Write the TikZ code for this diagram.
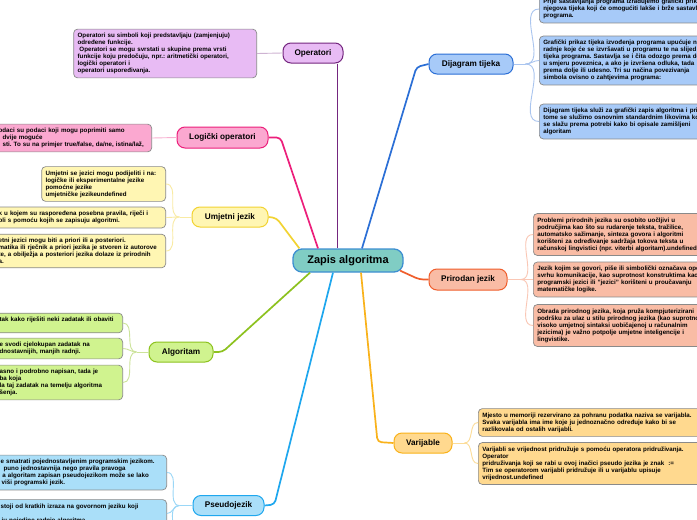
\documentclass[tikz,border=0pt]{standalone}
\usepackage{fontspec}
\setmainfont{Liberation Sans}
\usetikzlibrary{positioning, calc}

\definecolor{rootfill}{HTML}{80CDC4}
\definecolor{rootline}{HTML}{3D8FD1}
\definecolor{oplight}{HTML}{E8BBF4}
\definecolor{opdark}{HTML}{74267F}
\definecolor{lolight}{HTML}{FBA8D0}
\definecolor{lodark}{HTML}{EC1F7B}
\definecolor{ujlight}{HTML}{FFF6B3}
\definecolor{ujdark}{HTML}{F2D332}
\definecolor{allight}{HTML}{D0F38F}
\definecolor{aldark}{HTML}{8DC21F}
\definecolor{pslight}{HTML}{AADFF9}
\definecolor{psdark}{HTML}{1EA7EE}
\definecolor{dtlight}{HTML}{A7CAF8}
\definecolor{dtdark}{HTML}{2B6FD6}
\definecolor{pjlight}{HTML}{F9BCA5}
\definecolor{pjdark}{HTML}{F05E2C}
\definecolor{varlight}{HTML}{FFD98F}
\definecolor{vardark}{HTML}{F9B21A}
\definecolor{noteline}{HTML}{8A8A8A}

\newcommand{\notefont}{\fontsize{6.2}{7}\selectfont\bfseries\frenchspacing
    \hyphenpenalty=10000\relax\exhyphenpenalty=10000\relax}

\begin{document}
\begin{tikzpicture}[x=1pt, y=-1pt,
        root/.style={rectangle, draw=rootline, line width=1.3pt, fill=rootfill, rounded corners=9pt, minimum width=110pt, minimum height=23pt, font=\fontsize{11}{13}\selectfont\bfseries},
        topic/.style={rectangle, draw, line width=1pt, rounded corners=8pt, minimum height=20pt, inner sep=2pt, font=\fontsize{8.2}{10}\selectfont\bfseries},
        note/.style={rectangle, draw=noteline, line width=0.7pt, rounded corners=4pt, inner xsep=4pt, inner ysep=4pt, align=left, font=\notefont},
        branch/.style={line width=1.7pt, rounded corners=4pt},
        twig/.style={line width=0.9pt}
    ]
        \useasboundingbox (0,0) rectangle (697,520);
        \clip (0,0) rectangle (697,520);
        \fill[white] (0,0) rectangle (697,520);

        % Central topic
        \node[root] (root) at (348,260.5) {Zapis algoritma};

        % Main topics
        \node[topic, fill=oplight, draw=opdark, minimum width=60pt] (opr) at (313,53) {Operatori};
        \node[topic, fill=lolight, draw=lodark, minimum width=91pt, minimum height=21pt] (lo) at (222.5,137.5) {Logički operatori};
        \node[topic, fill=ujlight, draw=ujdark, minimum width=76pt] (uj) at (230,217) {Umjetni jezik};
        \node[topic, fill=allight, draw=aldark, minimum width=64pt] (alg) at (181,352) {Algoritam};
        \node[topic, fill=pslight, draw=psdark, minimum width=71pt] (ps) at (228.5,505.5) {Pseudojezik};
        \node[topic, fill=dtlight, draw=dtdark, minimum width=84pt] (dt) at (471,64) {Dijagram tijeka};
        \node[topic, fill=pjlight, draw=pjdark, minimum width=78pt, minimum height=21pt] (pj) at (468,279.5) {Prirodan jezik};
        \node[topic, fill=varlight, draw=vardark, minimum width=58pt] (var) at (423,443) {Varijable};

        % Notes, left side
        \node[note, fill=oplight, anchor=east, text width=175pt] (opl) at (257,53.5) {Operatori su simboli koji predstavljaju (zamjenjuju)\\ određene funkcije.\\ \hspace*{1.8pt}Operatori se mogu svrstati u skupine prema vrsti\\ funkcije koju predočuju, npr.: aritmetički operatori,\\ logički operatori i\\ operatori uspoređivanja.};
        \node[note, fill=lolight, anchor=east, text width=149pt] (lol) at (152,138) {odaci su podaci koji mogu poprimiti samo\\ \hspace*{4pt}dvije moguće\\ \hspace*{4pt}sti. To su na primjer true/false, da/ne, istina/laž,};

        \node[note, fill=ujlight, anchor=east, text width=116pt] (ujl1) at (166,184) {Umjetni se jezici mogu podijeliti i na:\\ logičke ili eksperimentalne jezike\\ pomoćne jezike\\ umjetničke jezikeundefined};
        \node[note, fill=ujlight, anchor=east, text width=163pt] (ujl2) at (166,217.5) {k u kojem su raspoređena posebna pravila, riječi i\\ oli s pomoću kojih se zapisuju algoritmi.};
        \node[note, fill=ujlight, anchor=east, text width=163pt] (ujl3) at (166,251) {etni jezici mogu biti a priori ili a posteriori.\\ matika ili rječnik a priori jezika je stvoren iz autorove\\ te, a obilježja a posteriori jezika dolaze iz prirodnih\\ a.};

        \node[note, fill=allight, anchor=east, text width=119pt] (all1) at (123,323) {tak kako riješiti neki zadatak ili obaviti\\ \mbox{}};
        \node[note, fill=allight, anchor=east, text width=119pt] (all2) at (123,348.5) {e svodi cjelokupan zadatak na\\ dnostavnijih, manjih radnji.};
        \node[note, fill=allight, anchor=east, text width=119pt] (all3) at (123,382.5) {asno i podrobno napisan, tada je\\ ba koja\\ la taj zadatak na temelju algoritma\\ šenja.};

        \node[note, fill=pslight, anchor=east, text width=164pt] (psl1) at (167,472.5) {\hspace*{2pt}e smatrati pojednostavljenim programskim jezikom.\\ \hspace*{5pt}puno jednostavnija nego pravila pravoga\\ , a algoritam zapisan pseudojezikom može se lako\\ \hspace*{3pt}viši programski jezik.};
        \node[note, fill=pslight, anchor=east, text width=164pt] (psl2) at (167,513.5) {\hspace*{2pt}stoji od kratkih izraza na govornom jeziku koji\\ \mbox{}\\ \hspace*{3pt}ju pojedine radnje algoritma.};
        \coordinate (psnext) at (167,548);

        % Notes, right side
        \node[note, fill=dtlight, anchor=west, text width=260pt] (dtl1) at (539,9) {Prije sastavljanja programa izrađujemo grafički prikaz\\ njegova tijeka koji će omogućiti lakše i brže sastavljanje\\ programa.};
        \node[note, fill=dtlight, anchor=west, text width=260pt] (dtl2) at (539,60.5) {Grafički prikaz tijeka izvođenja programa upućuje na\\ radnje koje će se izvršavati u programu te na slijed\\ tijeka programa. Sastavlja se i čita odozgo prema dolje\\ u smjeru poveznica, a ako je izvršena odluka, tada\\ prema dolje ili udesno. Tri su načina povezivanja\\ simbola ovisno o zahtjevima programa:};
        \node[note, fill=dtlight, anchor=west, text width=260pt] (dtl3) at (539,121.5) {Dijagram tijeka služi za grafički zapis algoritma i pri\\ tome se služimo osnovnim standardnim likovima koji\\ se slažu prema potrebi kako bi opisale zamišljeni\\ algoritam};

        \node[note, fill=pjlight, anchor=west, text width=260pt] (pjl1) at (533,234.5) {Problemi prirodnih jezika su osobito uočljivi u\\ područjima kao što su rudarenje teksta, tražilice,\\ automatsko sažimanje, sinteza govora i algoritmi\\ korišteni za određivanje sadržaja tokova teksta u\\ računskoj lingvistici (npr. viterbi algoritam).undefined};
        \node[note, fill=pjlight, anchor=west, text width=260pt] (pjl2) at (533,279.5) {Jezik kojim se govori, piše ili simbolički označava opću\\ svrhu komunikacije, kao suprotnost konstruktima kao što su\\ programski jezici ili "jezici" korišteni u proučavanju\\ matematičke logike.};
        \node[note, fill=pjlight, anchor=west, text width=260pt] (pjl3) at (533,325.5) {Obrada prirodnog jezika, koja pruža kompjuterizirani\\ podršku za ulaz u stilu prirodnog jezika (kao suprotnost\\ visoko umjetnoj sintaksi uobičajenoj u računalnim\\ jezicima) je važno potpolje umjetne inteligencije i\\ lingvistike.};

        \node[note, fill=varlight, anchor=west, text width=260pt] (varl1) at (478,422.5) {Mjesto u memoriji rezervirano za pohranu podatka naziva se varijabla.\\ Svaka varijabla ima ime koje ju jednoznačno određuje kako bi se\\ razlikovala od ostalih varijabli.};
        \node[note, fill=varlight, anchor=west, text width=260pt] (varl2) at (478,463.5) {Varijabli se vrijednost pridružuje s pomoću operatora pridruživanja.\\ Operator\\ pridruživanja koji se rabi u ovoj inačici pseudo jezika je znak~~:=\\ Tim se operatorom varijabli pridružuje ili u varijablu upisuje\\ vrijednost.undefined};

        % Branches to the central topic
        \coordinate (opdrop) at ($(opr.south east)+(-6,0)$);
        \draw[branch, opdark] (opdrop) -- (opdrop |- root.north);
        \draw[branch, lodark] (lo.east) -- ++(12,0) -- ($(root.north)+(-30,0)$);
        \draw[branch, ujdark] (uj.east) -- ++(8,1) -- ($(root.north west)+(7,0)$);
        \draw[branch, aldark] (alg.east) -- ++(9,0) -- ($(root.south)+(-38,0)$);
        \draw[branch, psdark] (ps.east) -- ++(10,-1) -- ($(root.south)+(-15,0)$);
        \draw[branch, vardark] (var.west) -- ++(-16,-1) -- ($(root.south)+(13,0)$);
        \draw[branch, pjdark] (pj.west) -- ++(-9,0) -- ($(root.south east)+(-3.5,-2)$);
        \draw[branch, dtdark] (dt.west) -- ++(-12,3) -- ($(root.north)+(14,0)$);

        % Twigs to the notes
        \draw[twig, opdark!35] (opr.west) -- (opl.east);
        \draw[twig, lodark!35] (lo.west) -- (lol.east);

        \coordinate (ujfork) at ($(uj.west)+(-12,0)$);
        \draw[twig, ujdark!45] (uj.west) -- (ujfork);
        \foreach \n in {ujl1, ujl2, ujl3}
            \draw[twig, ujdark!45] (ujfork) to[out=180, in=0] (\n.east);

        \coordinate (alfork) at ($(alg.west)+(-12,0)$);
        \draw[twig, aldark!45] (alg.west) -- (alfork);
        \foreach \n in {all1, all2, all3}
            \draw[twig, aldark!45] (alfork) to[out=180, in=0] (\n.east);

        \coordinate (psfork) at ($(ps.west)+(-13,0)$);
        \draw[twig, psdark!45] (ps.west) -- (psfork);
        \foreach \n in {psl1.east, psl2.east, psnext}
            \draw[twig, psdark!45] (psfork) to[out=180, in=0] (\n);

        \coordinate (dtfork) at ($(dt.east)+(12,0)$);
        \draw[twig, dtdark!40] (dt.east) -- (dtfork);
        \foreach \n in {dtl1, dtl2, dtl3}
            \draw[twig, dtdark!40] (dtfork) to[out=0, in=180] (\n.west);

        \coordinate (pjfork) at ($(pj.east)+(13,0)$);
        \draw[twig, pjdark!35] (pj.east) -- (pjfork);
        \foreach \n in {pjl1, pjl2, pjl3}
            \draw[twig, pjdark!35] (pjfork) to[out=0, in=180] (\n.west);

        \coordinate (varfork) at ($(var.east)+(12,0)$);
        \draw[twig, vardark!45] (var.east) -- (varfork);
        \foreach \n in {varl1, varl2}
            \draw[twig, vardark!45] (varfork) to[out=0, in=180] (\n.west);
    \end{tikzpicture}
\end{document}
